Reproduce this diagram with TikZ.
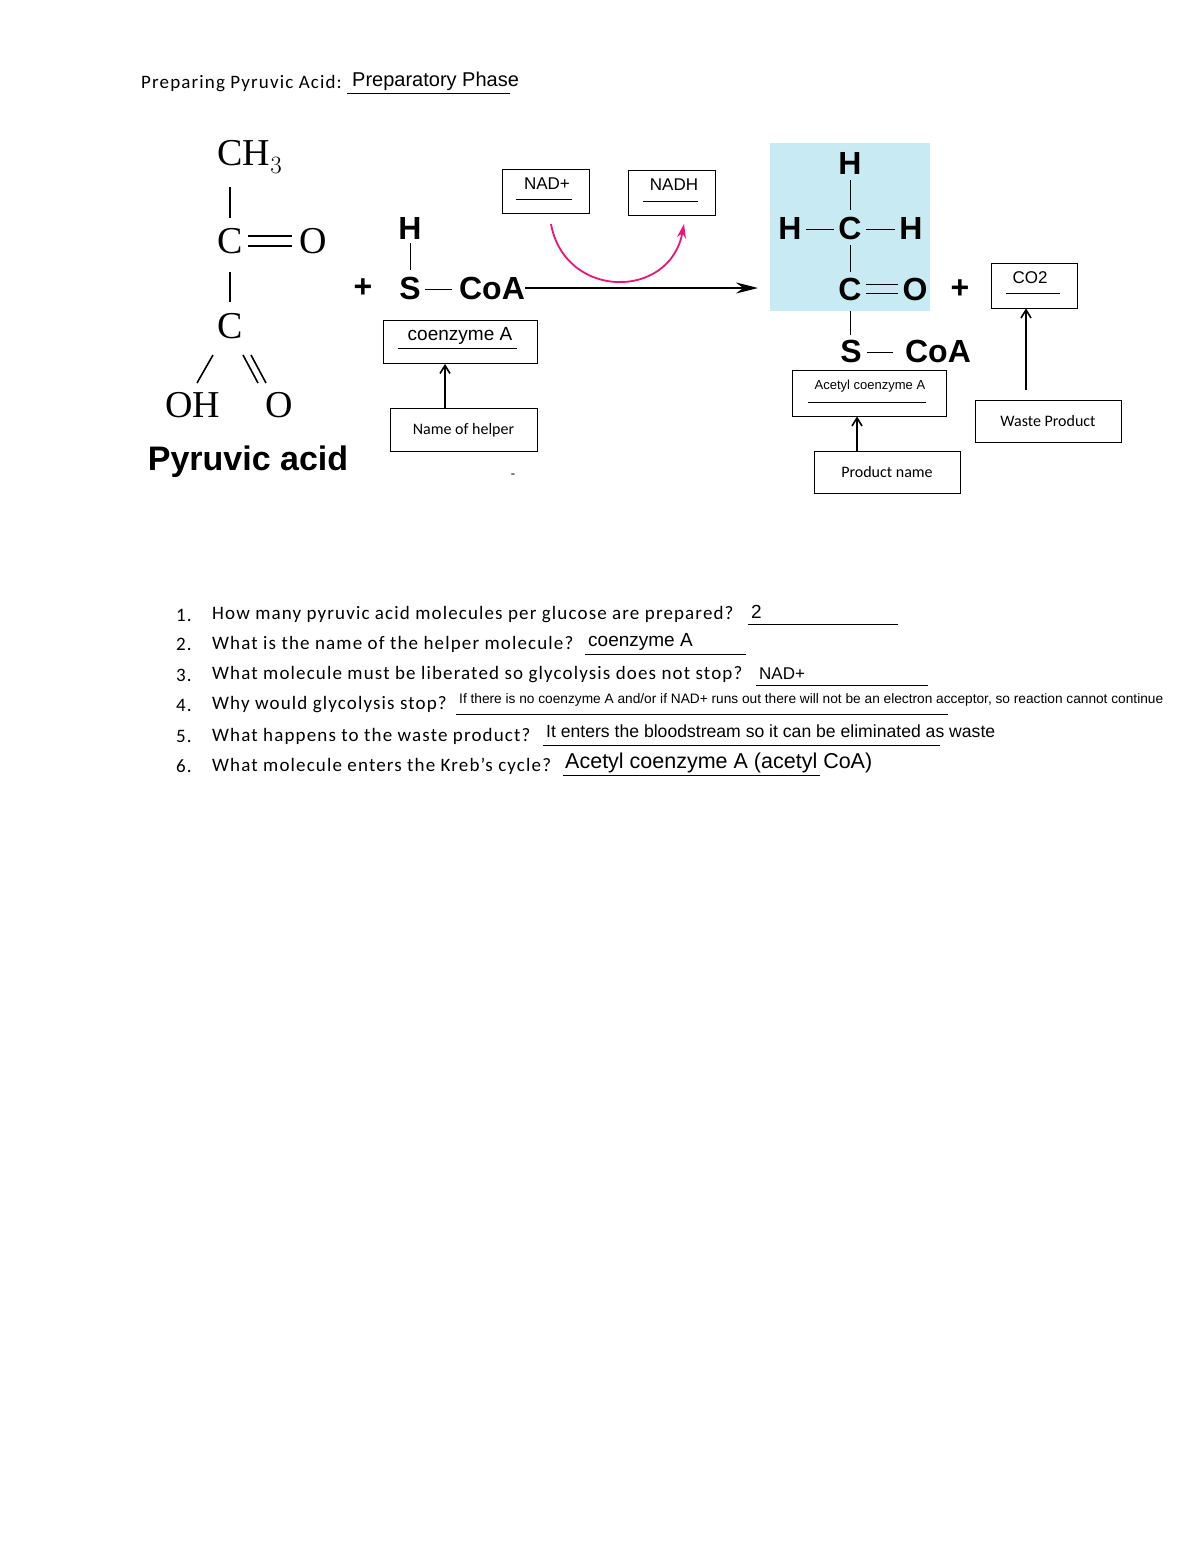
\documentclass[tikz,border=0pt]{standalone}
\usepackage{fontspec}
\setmainfont{Carlito}
\newfontfamily\ars{Liberation Sans}
\newfontfamily\tms{Liberation Serif}
\newfontfamily\wideq[LetterSpace=6]{Carlito}
\usetikzlibrary{arrows.meta}
\tikzset{
 box/.style={draw,line width=0.9pt,minimum height=43pt,inner sep=0pt},
 fs/.style={font=\fontsize{#1}{#1}\selectfont},
 chem/.style={font=\ars\bfseries\fontsize{32}{32}\selectfont,inner sep=0pt},
 pyr/.style={font=\tms\fontsize{38}{38}\selectfont,inner sep=0pt},
 bond/.style={line width=1.6pt},
 uparr/.style={line width=1.6pt,-{Straight Barb[length=8pt,width=10pt]}},
 ul/.style={line width=0.7pt},
 q/.style={anchor=west,inner sep=0pt,font=\wideq\fontsize{19}{19}\selectfont},
 ans/.style={anchor=south west,inner sep=1pt,font=\ars\fontsize{19}{19}\selectfont}
}
\begin{document}
\begin{tikzpicture}[x=1pt,y=-1pt]
\useasboundingbox (0,0) rectangle (1200,1553);
% title
\node[q] (title) at (141,84) {Preparing Pyruvic Acid:};
\node[ans,font=\ars\fontsize{20}{20}\selectfont] (phase) at (351,92) {Preparatory Phase};
\draw[ul] (347,93) -- (510,93);
% pyruvic acid
\node[pyr] (ch3) at (250,157) {CH$_3$};
\draw[bond] (230,187) -- (230,218);
\node[pyr] (c1) at (230,241) {C};
\node[pyr] (o1) at (313,241) {O};
\draw[bond] (248,236) -- (292,236) (248,246) -- (292,246);
\draw[bond] (230,272) -- (230,302);
\node[pyr] (c2) at (230,326) {C};
\draw[bond] (197,383) -- (213,355);
\draw[bond] (243,355) -- (258,383) (251,355) -- (266,383);
\node[pyr] (oh) at (193,405) {OH};
\node[pyr] (o2) at (279,405) {O};
\node[font=\ars\bfseries\fontsize{34}{34}\selectfont] (pa) at (248,462) {Pyruvic acid};
% coA
\node[chem] (plus1) at (363,288) {+};
\node[chem] (h1) at (410,228) {H};
\draw[line width=1pt] (410,243) -- (410,270);
\node[chem] (s1) at (410,288) {S};
\draw[line width=1pt] (425,289) -- (452,289);
\node[chem] (coa1) at (492,288) {CoA};
\coordinate (a1) at (525,288);
\coordinate (a2) at (758,288);
\draw[line width=2pt,-{Stealth[length=22pt,width=11pt]}] (a1) -- (a2);
\node[box,minimum width=154pt] (cbox) at (460,342) {};
\node[font=\ars\fontsize{19}{19}\selectfont] (ctext) at (460,336) {coenzyme A};
\draw[ul] (398,348) -- (517,348);
\node[box,minimum width=147pt,fs=16] (helper) at (463.5,430) {Name of helper};
\draw[uparr] (helper.north -| 445,0) -- (cbox.south -| 445,0);
\node[fs=14] (dash) at (513,476) {-};
% NAD
\node[box,minimum width=87pt,minimum height=44pt] (nad) at (545.5,191) {};
\node[font=\ars\fontsize{17}{17}\selectfont] (nadt) at (547,184) {NAD+};
\draw[ul] (516,199) -- (572,199);
\node[box,minimum width=87pt,minimum height=45pt] (nadh) at (671.5,192.5) {};
\node[font=\ars\fontsize{17}{17}\selectfont] (nadht) at (674,185) {NADH};
\draw[ul] (643,201) -- (698,201);
\coordinate (m1) at (551,224);
\coordinate (m2) at (684,224);
\draw[line width=1.8pt,color={rgb,255:red,236;green,20;blue,120},-{Stealth[length=14pt,width=9pt]}]
  (m1) .. controls (565,300) and (670,300) .. (m2);
% acetyl CoA
\fill[color={rgb,255:red,200;green,234;blue,242}] (770,143) rectangle (930,311);
\node[chem] (h2) at (850,163) {H};
\draw[line width=1pt] (850,180) -- (850,210);
\node[chem] (h3) at (790,228) {H};
\node[chem] (c3) at (850,228) {C};
\node[chem] (h4) at (911,228) {H};
\draw[line width=1pt] (806,229) -- (834,229) (866,229) -- (895,229);
\draw[line width=1pt] (850,245) -- (850,272);
\node[chem] (c4) at (850,289) {C};
\node[chem] (o3) at (915,289) {O};
\draw[line width=1pt] (866,284) -- (898,284) (866,293) -- (898,293);
\node[chem] (plus2) at (960,289) {+};
\draw[line width=1pt] (850,311) -- (850,335);
\node[chem] (s2) at (851,351) {S};
\draw[line width=1pt] (867,352) -- (893,352);
\node[chem] (coa2) at (938,351) {CoA};
\node[box,minimum width=154pt,minimum height=46pt] (abox) at (869,393) {};
\node[font=\ars\fontsize{13}{13}\selectfont] (atext) at (870,386) {Acetyl coenzyme A};
\draw[ul] (808,402) -- (926,402);
\node[box,minimum width=146pt,minimum height=42pt,fs=16] (prod) at (887,472) {Product name};
\draw[uparr] (prod.north -| 857,0) -- (abox.south -| 857,0);
% CO2
\node[box,minimum width=86pt,minimum height=45pt] (co2) at (1034,285.5) {};
\node[font=\ars\fontsize{17}{17}\selectfont] (co2t) at (1030,278) {CO2};
\draw[ul] (1006,293) -- (1060,293);
\node[box,minimum width=146pt,minimum height=42pt,fs=16] (waste) at (1048,421) {Waste Product};
\coordinate (w1) at (1026,390);
\draw[uparr] (w1) -- (co2.south -| 1026,0);
% questions
\foreach \n/\y/\t in {1/615/How many pyruvic acid molecules per glucose are prepared?,
 2/644/What is the name of the helper molecule?,
 3/675/What molecule must be liberated so glycolysis does not stop?,
 4/705/Why would glycolysis stop?,
 5/736/What happens to the waste product?,
 6/766/What molecule enters the Kreb’s cycle?}{
 \node[q] (n\n) at (176,\y) {\n.};
 \node[q] (t\n) at (212,\y) {\t};
}
\node[ans] (a1t) at (750,620) {2};
\draw[ul] (748,624) -- (898,624);
\node[ans] (a2t) at (587,652) {coenzyme A};
\draw[ul] (585,654) -- (746,654);
\node[ans,font=\ars\fontsize{17}{17}\selectfont] (a3t) at (758,681) {NAD+};
\draw[ul] (756,685) -- (928,685);
\node[ans,font=\ars\fontsize{13.7}{13.7}\selectfont] (a4t) at (458,708) {If there is no coenzyme A and/or if NAD+ runs out there will not be an electron acceptor, so reaction cannot continue};
\draw[ul] (456,714) -- (948,714);
\node[ans,font=\ars\fontsize{17.6}{17.6}\selectfont] (a5t) at (545,739) {It enters the bloodstream so it can be eliminated as waste};
\draw[ul] (543,745) -- (940,745);
\node[ans,font=\ars\fontsize{21.5}{21.5}\selectfont] (a6t) at (564,774) {Acetyl coenzyme A (acetyl CoA)};
\draw[ul] (563,775) -- (820,775);
\end{tikzpicture}
\end{document}
